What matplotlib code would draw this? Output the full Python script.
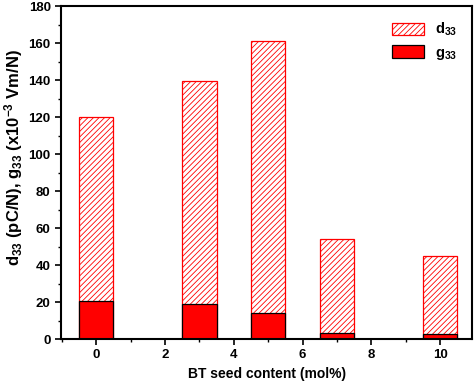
import matplotlib
matplotlib.use("Agg")
import matplotlib.pyplot as plt
from matplotlib.ticker import MultipleLocator

plt.rcParams['font.family'] = 'Liberation Sans'
plt.rcParams['font.weight'] = 'bold'
plt.rcParams['mathtext.fontset'] = 'custom'
plt.rcParams['mathtext.rm'] = 'Liberation Sans:bold'
plt.rcParams['mathtext.bf'] = 'Liberation Sans:bold'
plt.rcParams['mathtext.default'] = 'rm'
plt.rcParams['hatch.linewidth'] = 0.6

# BT seed content (mol%)
bt_content = [0, 3, 5, 7, 10]
d33 = [120, 139.5, 161, 54, 45]
g33 = [20.3, 19, 14.3, 3.5, 2.8]

fig = plt.figure(figsize=(4.74, 3.87), dpi=100)
ax = fig.add_axes([0.129, 0.124, 0.867, 0.86])

ax.bar(bt_content, d33, width=1.0, facecolor='white', edgecolor='red',
       hatch='//////', linewidth=0.9, label='d$_{33}$')
ax.bar(bt_content, g33, width=1.0, facecolor='red', edgecolor='black',
       linewidth=0.9, label='g$_{33}$')

ax.set_xlim(-1.02, 10.93)
ax.set_ylim(0, 180)
ax.xaxis.set_major_locator(MultipleLocator(2))
ax.xaxis.set_minor_locator(MultipleLocator(1))
ax.yaxis.set_major_locator(MultipleLocator(20))
ax.yaxis.set_minor_locator(MultipleLocator(10))
ax.tick_params(which='major', direction='out', length=4, width=1.2, labelsize=9.5)
ax.tick_params(which='minor', direction='out', length=2.5, width=1.0)
for s in ax.spines.values():
    s.set_linewidth(1.5)

ax.set_xlabel('BT seed content (mol%)', fontsize=10, fontweight='bold')
ax.set_ylabel('d$_{33}$ (pC/N), g$_{33}$ (x10$^{-3}$ Vm/N)', fontsize=12, fontweight='bold')
ax.yaxis.set_label_coords(-0.088, 0.545)

ax.legend(loc='upper right', frameon=False, fontsize=10.5, handlelength=2.2,
          handleheight=0.9, borderaxespad=0.6)

fig.savefig('out.png', dpi=100)
